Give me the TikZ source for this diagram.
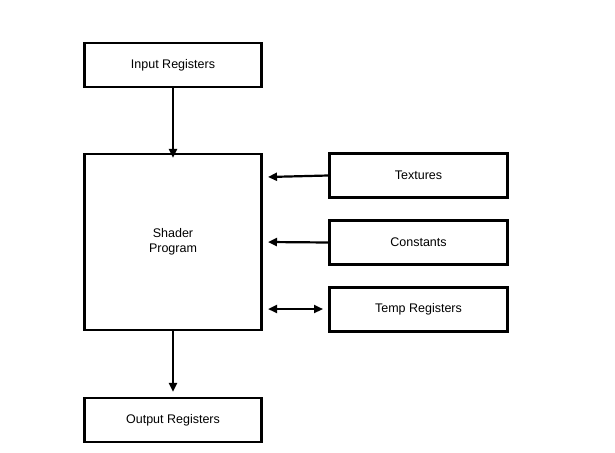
\documentclass[tikz,border=0pt]{standalone}
\usepackage{fontspec}
\setmainfont{Liberation Sans}
\usetikzlibrary{arrows.meta}
\begin{document}
\begin{tikzpicture}[x=1pt,y=-1pt,
  box/.style={draw,line width=2.2pt,minimum height=44pt,inner sep=0pt,font=\fontsize{12.5}{15}\selectfont,align=center},
  arr/.style={line width=2.2pt,-{Triangle[length=9pt,width=8pt]}}]
\useasboundingbox (0,0) rectangle (615,452);
\node[box,minimum width=177pt] (in) at (173,65) {Input Registers};
\node[box,minimum width=177pt,minimum height=176pt] (sh) at (173,242) {Shader\\Program};
\node[box,minimum width=178pt] (tex) at (418.5,175.5) {Textures};
\node[box,minimum width=178pt] (con) at (418.5,242.5) {Constants};
\node[box,minimum width=178pt] (tmp) at (418.5,309.5) {Temp Registers};
\node[box,minimum width=177pt] (out) at (173,420) {Output Registers};
\coordinate (a1) at (268,177);
\coordinate (a2) at (268,242);
\coordinate (a3) at (268,309);
\coordinate (a4) at (323,309);
\draw[arr] (in.south) -- ([yshift=-5pt]sh.north);
\draw[arr] (sh.south) -- ([yshift=5pt]out.north);
\draw[arr] (tex.west) -- (a1);
\draw[arr] (con.west) -- (a2);
\draw[line width=2.2pt,{Triangle[length=9pt,width=8pt]}-{Triangle[length=9pt,width=8pt]}] (a3) -- (a4);
\end{tikzpicture}
\end{document}
